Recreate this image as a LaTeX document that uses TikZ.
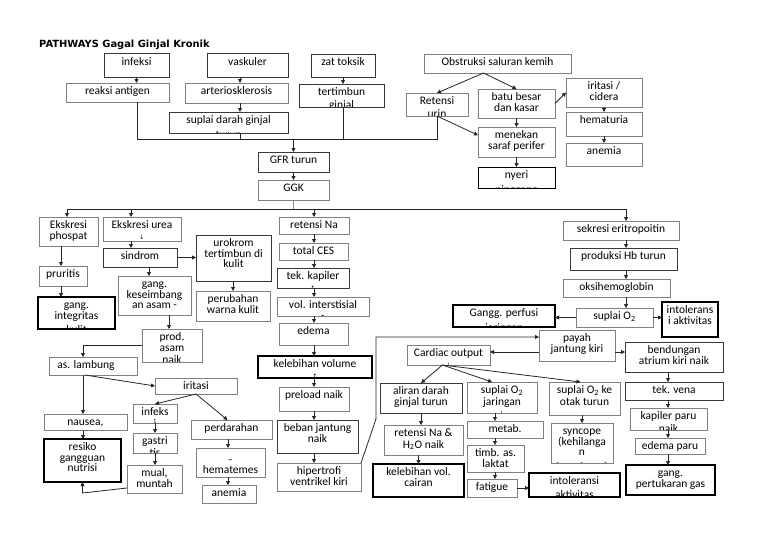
\documentclass[tikz,border=0pt]{standalone}
\usepackage{fontspec}
\setmainfont{Carlito}
\newfontfamily\djf{DejaVu Sans}
\usetikzlibrary{arrows.meta,calc}
\newcommand\bodyf{\fontsize{11.5}{10.5}\selectfont}
\newcommand\sm[1]{{\djf\fontsize{6}{6}\selectfont #1}}
\tikzset{
  bx/.style={rectangle,draw=black!50,line width=0.8pt,fill=white,inner sep=0pt,outer sep=0pt},
  dk/.style={draw=black!78},
  tk/.style={draw=black,line width=2.2pt},
  txt/.style={anchor=north,inner sep=0pt,outer sep=0pt,align=center,font=\bodyf,text=black,
    draw=none,fill=none,minimum width=0pt,minimum height=0pt},
  ln/.style={draw=black!85,line width=0.8pt},
  arr/.style={ln,-{Triangle[length=4pt,width=4pt]}},
}
\newcommand\B[7][]{%
  \pgfmathsetmacro\bW{#5-#3}\pgfmathsetmacro\bH{#6-#4}%
  \pgfmathsetmacro\bX{(#3+#5)/2}\pgfmathsetmacro\bY{(#4+#6)/2}%
  \node[bx,#1,minimum width=\bW pt,minimum height=\bH pt,
    path picture={\node[txt] at ([yshift=-2.5pt]path picture bounding box.north) {\rule{0pt}{9pt}#7};}]
    (#2) at (\bX,\bY) {};}
\begin{document}
\begin{tikzpicture}[x=1pt,y=-1pt]
\useasboundingbox[fill=white] (0,0) rectangle (768,543);
\node[anchor=base west,font={\djf\bfseries\fontsize{9.9}{11}\selectfont},inner sep=0pt] (title) at (39,48) {PATHWAYS Gagal Ginjal Kronik};
% top
\B[dk]{infeksi}{104}{53}{169}{77}{\rule{0pt}{10pt}infeksi}
\B[dk]{vaskuler}{207}{53}{288}{77}{\rule{0pt}{10pt}vaskuler}
\B[dk]{zattoksik}{311}{54}{375}{77}{zat toksik}
\B{obstruksi}{424}{54}{571}{73}{Obstruksi saluran kemih}
\B{reaksi}{66}{83}{169}{102}{reaksi antigen}
\B{arterio}{185}{83}{288}{103}{arteriosklerosis}
\B[dk]{tertimbun}{299}{84}{384}{107}{tertimbun\\[2.5pt]ginjal}
\B[dk]{suplaidarah}{169}{112}{288}{133}{suplai darah ginjal\\[4pt]turun}
\B{retensi}{406}{93}{468}{116}{Retensi\\[2.5pt]urin}
\B{batu}{478}{89}{555}{118}{batu besar\\dan kasar}
\B{menekan}{478}{127}{555}{157}{menekan\\saraf perifer}
\B[draw=black]{nyeri}{478}{167}{555}{188}{nyeri\\[4pt]pinggang}
\B{iritasi}{566}{78}{642}{107}{iritasi /\\cidera}
\B{hematuria}{566}{112}{642}{136}{hematuria}
\B{anemia}{566}{143}{642}{166}{anemia}
\B[dk]{gfr}{258}{152}{329}{172}{GFR turun}
\B{ggk}{258}{180}{329}{200}{GGK}
% left
\B{ekphos}{39}{217}{98}{246}{Ekskresi\\phospat}
\B{ekurea}{103}{217}{181}{241}{Ekskresi urea\\\sm{↓}}
\B[dk]{sindrom}{103}{248}{177}{267}{sindrom}
\B[dk]{urokrom}{196}{235}{271}{281}{urokrom\\tertimbun di\\kulit}
\B{pruritis}{39}{266}{87}{286}{pruritis}
\B[tk]{gangint}{38}{297}{115}{329}{gang.\\integritas\\[4pt]kulit}
\B{keseimb}{118}{276}{191}{315}{gang.\\keseimbang\\an asam -\\[4pt]basa}
\B{perubahan}{196}{291}{270}{321}{perubahan\\warna kulit}
\B{prod}{142}{329}{202}{362}{prod.\\asam\\[2pt]naik}
\B{aslamb}{49}{357}{137}{375}{as. lambung\hspace{14pt}}
\B{iritasi2}{155}{378}{237}{394}{iritasi}
\B{nausea}{44}{414}{127}{430}{nausea,}
\B[tk]{resiko}{44}{439}{121}{482}{resiko\\gangguan\\nutrisi}
\B{infeks}{133}{404}{177}{423}{infeks\\[1pt]i}
\B{gastri}{133}{433}{177}{453}{gastri\\[1pt]tis}
\B{mual}{127}{465}{182}{493}{mual,\\muntah}
\B{perdarahan}{191}{420}{272}{439}{perdarahan}
\B{hematemes}{196}{448}{265}{477}{\rule{0pt}{12.5pt}-\\hematemes}
\B{anemia2}{202}{485}{256}{503}{anemia}
% middle
\B{retna}{279}{217}{349}{234}{retensi Na}
\B{ces}{279}{243}{348}{260}{total CES}
\B[dk]{tekkap}{277}{268}{349}{288}{tek. kapiler\\\sm{↑}}
\B{volint}{277}{297}{369}{316}{vol. interstisial\\\sm{↑}}
\B{edema}{279}{323}{348}{345}{edema}
\B[tk]{kelvolume}{258}{356}{372}{378}{kelebihan volume\\\sm{↑}}
\B{preload}{279}{387}{349}{411}{preload naik}
\B[dk]{beban}{277}{420}{358}{453}{beban jantung\\naik}
\B{hipertrofi}{277}{463}{361}{491}{hipertrofi\\ventrikel kiri}
% right
\B{sekresi}{563}{221}{679}{240}{sekresi eritropoitin}
\B[dk]{produksi}{570}{248}{677}{270}{produksi Hb turun}
\B{oksi}{563}{279}{670}{297}{oksihemoglobin}
\B{suplaiO}{576}{308}{653}{327}{suplai O\textsubscript{2}}
\B[tk]{gangg}{453}{305}{555}{327}{Gangg. perfusi\\[4pt]jaringan}
\B[tk]{intol}{662}{302}{718}{337}{intolerans\\i aktivitas}
\B{payah}{539}{330}{615}{361}{payah\\jantung kiri}
\B{cardiac}{407}{345}{490}{365}{Cardiac output\\\sm{↓}}
\B[dk]{bendungan}{625}{342}{723}{372}{bendungan\\atrium kiri naik}
\B[dk]{aliran}{380}{383}{462}{413}{aliran darah\\ginjal turun}
\B{suplaiJ}{467}{382}{537}{413}{suplai O\textsubscript{2}\\[1pt]jaringan\\\sm{↓}}
\B{otak}{549}{382}{620}{415}{suplai O\textsubscript{2} ke\\[1pt]otak turun}
\B{retna2}{384}{425}{463}{455}{retensi Na \&\\[1pt]H\textsubscript{2}O naik}
\B[tk]{kelvol}{373}{464}{464}{497}{kelebihan vol.\\cairan}
\B{metab}{467}{421}{543}{438}{metab.}
\B{timb}{467}{445}{524}{472}{timb. as.\\laktat}
\B{fatigue}{467}{479}{517}{497}{fatigue}
\B[tk]{intol2}{529}{473}{620}{497}{intoleransi\\[3pt]aktivitas}
\B{syncope}{551}{423}{613}{463}{syncope\\(kehilanga\\n\\[4pt]kesadaran)}
\B[dk]{tekvena}{625}{382}{723}{400}{tek. vena\\[4pt]pulmonal}
\B{kapparu}{630}{408}{707}{430}{kapiler paru\\[2pt]naik}
\B{edparu}{635}{438}{705}{454}{edema paru}
\B[tk]{gangpt}{626}{465}{715}{495}{gang.\\pertukaran gas}
% coordinates
\coordinate (cV) at (240,0);
\coordinate (bus1L) at (137,139);
\coordinate (b2L) at (67,209);
\coordinate (b2R) at (626,209);
\coordinate (cU) at (131,0);
\coordinate (cP) at (61,0);
\coordinate (cK) at (149,0);
\coordinate (cPr) at (169,0);
\coordinate (cL) at (83,0);
\coordinate (cM) at (314,0);
\coordinate (cD) at (228,0);
\coordinate (cJ) at (495,0);
\coordinate (cR) at (668,0);
\coordinate (rPJ) at (0,352);
\coordinate (h1) at (376,419);
\coordinate (h2) at (376,337);
\coordinate (m1) at (0,493);
\coordinate (ob) at ($(obstruksi.south)+(-14,0)$);
\coordinate (co) at ($(cardiac.south)+(-6,0)$);
% top connectors
\draw[arr] (infeksi.south) -- (infeksi.south |- reaksi.north);
\draw[arr] (vaskuler.south -| cV) -- (arterio.north -| cV);
\draw[arr] (arterio.south -| cV) -- (suplaidarah.north -| cV);
\draw[arr] (zattoksik.south) -- (zattoksik.south |- tertimbun.north);
\draw[ln] (reaksi.south -| bus1L) -- (bus1L) -| (retensi.south);
\draw[ln] (suplaidarah.south -| cV) -- (cV |- bus1L);
\draw[ln] (tertimbun.south -| zattoksik.south) -- (zattoksik.south |- bus1L);
\draw[arr] (gfr.north |- bus1L) -- (gfr.north);
\draw[arr] (gfr.south) -- (ggk.north);
\draw[ln,draw=black!45] (ggk.south) -- (ggk.south |- b2L);
\draw[ln] (b2L) -- (b2R);
\draw[arr] (b2L) -- (b2L |- ekphos.north);
\draw[arr] (cU |- b2L) -- (cU |- ekurea.north);
\draw[arr] (cM |- b2L) -- (cM |- retna.north);
\draw[arr] (b2R) -- (b2R |- sekresi.north);
\draw[arr] (ob) -- (retensi.north);
\draw[arr] (ob) -- (batu.north);
\draw[arr] (retensi.south) -- (menekan.170);
\draw[arr] (batu.south) -- (menekan.north);
\draw[arr] (menekan.south) -- (nyeri.north);
\draw[arr] (batu.east) -- (iritasi.west);
\draw[arr] (iritasi.south) -- (hematuria.north);
\draw[arr] (hematuria.south) -- (anemia.north);
% right
\draw[arr] (b2R |- sekresi.south) -- (b2R |- produksi.north);
\draw[arr] (b2R |- produksi.south) -- (b2R |- oksi.north);
\draw[arr] (b2R |- oksi.south) -- (b2R |- suplaiO.north);
\draw[arr] (suplaiO.west) -- (suplaiO.west -| gangg.east);
\draw[arr] (suplaiO.east) -- (suplaiO.east -| intol.west);
\draw[arr] (payah.west |- rPJ) -- (cardiac.east |- rPJ);
\draw[arr] (payah.east |- rPJ) -- (bendungan.west |- rPJ);
\draw[arr] (hipertrofi.north east) -- (h1) -- (h2) -- (h2 -| payah.west);
\draw[arr] (co) -- (aliran.north);
\draw[arr] (co) -- ($(suplaiJ.north)+(-10,0)$);
\draw[arr] (co) -- ($(otak.north)+(-4,0)$);
\draw[arr] (aliran.south) -- (aliran.south |- retna2.north);
\draw[arr] (kelvol.north |- retna2.south) -- (kelvol.north);
\draw[arr] (cJ |- suplaiJ.south) -- (cJ |- metab.north);
\draw[arr] (cJ |- metab.south) -- (cJ |- timb.north);
\draw[arr] (cJ |- timb.south) -- (cJ |- fatigue.north);
\draw[arr] (fatigue.east) -- (fatigue.east -| intol2.west);
\draw[arr] (syncope.north |- otak.south) -- (syncope.north);
\draw[arr] (cR |- bendungan.south) -- (cR |- tekvena.north);
\draw[arr] (cR |- tekvena.south) -- (cR |- kapparu.north);
\draw[arr] (cR |- kapparu.south) -- (cR |- edparu.north);
\draw[arr] (cR |- edparu.south) -- (cR |- gangpt.north);
% middle
\draw[arr] (cM |- retna.south) -- (cM |- ces.north);
\draw[arr] (cM |- ces.south) -- (cM |- tekkap.north);
\draw[arr] (cM |- tekkap.south) -- (cM |- volint.north);
\draw[arr] (cM |- volint.south) -- (cM |- edema.north);
\draw[arr] (cM |- edema.south) -- (cM |- kelvolume.north);
\draw[arr] (cM |- kelvolume.south) -- (cM |- preload.north);
\draw[arr] (cM |- preload.south) -- (cM |- beban.north);
\draw[arr] (cM |- beban.south) -- (cM |- hipertrofi.north);
% left
\draw[arr] (cP |- ekphos.south) -- (cP |- pruritis.north);
\draw[arr] (cP |- pruritis.south) -- (cP |- gangint.north);
\draw[arr] (cU |- ekurea.south) -- (cU |- sindrom.north);
\draw[arr] (sindrom.east) -- (sindrom.east -| urokrom.west);
\draw[arr] (cK |- sindrom.south) -- (cK |- keseimb.north);
\draw[arr] (cPr |- keseimb.south) -- (cPr |- prod.north);
\draw[arr] (urokrom.south -| perubahan.north) -- (perubahan.north);
\draw[arr] (prod.west) -| (cL |- aslamb.north);
\draw[arr] (cL |- aslamb.south) -- (cL |- nausea.north);
\draw[arr] ($(aslamb.south)+(-8,0)$) -- (iritasi2.west);
\draw[arr] (cL |- nausea.south) -- (cL |- resiko.north);
\draw[arr] (iritasi2.south) -- (infeks.north);
\draw[arr] (iritasi2.south) -- ($(perdarahan.north)+(-4,0)$);
\draw[arr] (infeks.south) -- (gastri.north);
\draw[arr] (gastri.south) -- (gastri.south |- mual.north);
\draw[arr] ($(mual.south west)+(0,-5)$) -- (resiko.south |- m1) -- (resiko.south);
\draw[arr] (cD |- perdarahan.south) -- (cD |- hematemes.north);
\draw[arr] (cD |- hematemes.south) -- (cD |- anemia2.north);
\end{tikzpicture}
\end{document}
